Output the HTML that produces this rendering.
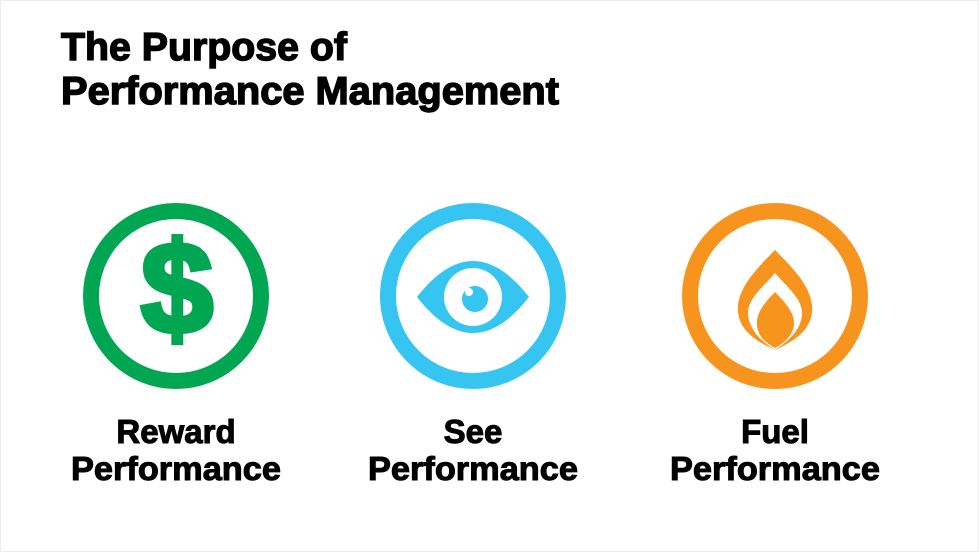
<!DOCTYPE html>
<html><head><meta charset="utf-8"><style>
html,body{margin:0;padding:0;background:#fff;}
svg{display:block;}
text{font-family:"Liberation Sans",Arial,sans-serif;font-weight:bold;}
</style></head><body>
<svg width="979" height="552" viewBox="0 0 979 552" xmlns="http://www.w3.org/2000/svg">
<rect x="0" y="0" width="979" height="552" fill="#fff"/>
<rect x="0.5" y="0.5" width="978" height="551" fill="none" stroke="#eee"/>
<text x="61" y="60" font-size="39" fill="#000" stroke="#000" stroke-width="1.4" textLength="286" lengthAdjust="spacingAndGlyphs">The Purpose of</text>
<text x="61" y="104" font-size="39" fill="#000" stroke="#000" stroke-width="1.4" textLength="498" lengthAdjust="spacingAndGlyphs">Performance Management</text>

<!-- green -->
<circle cx="176" cy="296" r="85" fill="none" stroke="#00a651" stroke-width="16"/>
<text x="177" y="333" font-size="130" fill="#00a651" stroke="#00a651" stroke-width="5" text-anchor="middle">$</text>

<!-- blue -->
<circle cx="473" cy="296" r="85" fill="none" stroke="#36c5f0" stroke-width="16"/>
<path d="M417,297 Q473,225 529,297 Q473,369 417,297Z" fill="#36c5f0"/>
<ellipse cx="473" cy="297" rx="29" ry="29" fill="#fff"/>
<circle cx="475" cy="299" r="13" fill="#36c5f0"/>
<circle cx="469" cy="292" r="4" fill="#fff"/>

<!-- orange -->
<circle cx="775" cy="296" r="85" fill="none" stroke="#f7941d" stroke-width="16"/>
<path d="M775,250 C795,270 814,290 812,312 C810,332 792,342 775,350 C758,342 740,332 738,312 C736,290 755,270 775,250Z" fill="#f7941d"/>
<path d="M775,273 C790,290 803,300 802,315 C800,333 785,343 775,350 C765,343 750,333 748,315 C747,300 760,290 775,273Z" fill="#fff"/>
<path d="M775,292 C788,305 795,315 794,325 C792,338 782,344 775,348 C768,344 758,338 757,325 C756,315 762,305 775,292Z" fill="#f7941d"/>

<g font-size="33" fill="#000" stroke="#000" stroke-width="1" text-anchor="middle">
<text x="176" y="443">Reward</text>
<text x="176" y="480" textLength="210" lengthAdjust="spacingAndGlyphs">Performance</text>
<text x="473" y="443">See</text>
<text x="473" y="480" textLength="210" lengthAdjust="spacingAndGlyphs">Performance</text>
<text x="775" y="443">Fuel</text>
<text x="775" y="480" textLength="210" lengthAdjust="spacingAndGlyphs">Performance</text>
</g>
</svg>
</body></html>
